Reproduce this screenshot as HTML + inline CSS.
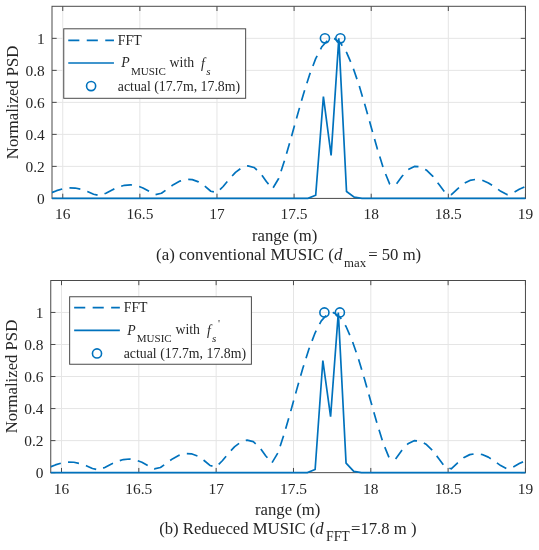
<!DOCTYPE html>
<html><head><meta charset="utf-8"><title>MUSIC range spectra</title>
<style>
html,body{margin:0;padding:0;background:#fff;}
body{width:539px;height:550px;overflow:hidden;font-family:"Liberation Serif", serif;}
svg{display:block;}
</style></head><body>
<svg width="539" height="550" viewBox="0 0 539 550" font-family='"Liberation Serif", serif' fill="#262626">
<rect x="0" y="0" width="539" height="550" fill="#fff"/>
<clipPath id="clip1"><rect x="52.00" y="4.30" width="473.45" height="196.10"/></clipPath>
<line x1="62.75" y1="6.30" x2="62.75" y2="198.40" stroke="#e5e5e5" stroke-width="1"/>
<line x1="139.87" y1="6.30" x2="139.87" y2="198.40" stroke="#e5e5e5" stroke-width="1"/>
<line x1="216.98" y1="6.30" x2="216.98" y2="198.40" stroke="#e5e5e5" stroke-width="1"/>
<line x1="294.09" y1="6.30" x2="294.09" y2="198.40" stroke="#e5e5e5" stroke-width="1"/>
<line x1="371.21" y1="6.30" x2="371.21" y2="198.40" stroke="#e5e5e5" stroke-width="1"/>
<line x1="448.32" y1="6.30" x2="448.32" y2="198.40" stroke="#e5e5e5" stroke-width="1"/>
<line x1="52.00" y1="166.39" x2="525.45" y2="166.39" stroke="#e5e5e5" stroke-width="1"/>
<line x1="52.00" y1="134.38" x2="525.45" y2="134.38" stroke="#e5e5e5" stroke-width="1"/>
<line x1="52.00" y1="102.37" x2="525.45" y2="102.37" stroke="#e5e5e5" stroke-width="1"/>
<line x1="52.00" y1="70.36" x2="525.45" y2="70.36" stroke="#e5e5e5" stroke-width="1"/>
<line x1="52.00" y1="38.35" x2="525.45" y2="38.35" stroke="#e5e5e5" stroke-width="1"/>
<rect x="52.00" y="6.30" width="473.45" height="192.10" fill="none" stroke="#4a4a4a" stroke-width="1"/>
<line x1="62.75" y1="198.40" x2="62.75" y2="193.70" stroke="#4a4a4a" stroke-width="1"/>
<line x1="62.75" y1="6.30" x2="62.75" y2="11.00" stroke="#4a4a4a" stroke-width="1"/>
<text x="62.75" y="219.30" font-size="15.4" text-anchor="middle">16</text>
<line x1="139.87" y1="198.40" x2="139.87" y2="193.70" stroke="#4a4a4a" stroke-width="1"/>
<line x1="139.87" y1="6.30" x2="139.87" y2="11.00" stroke="#4a4a4a" stroke-width="1"/>
<text x="139.87" y="219.30" font-size="15.4" text-anchor="middle">16.5</text>
<line x1="216.98" y1="198.40" x2="216.98" y2="193.70" stroke="#4a4a4a" stroke-width="1"/>
<line x1="216.98" y1="6.30" x2="216.98" y2="11.00" stroke="#4a4a4a" stroke-width="1"/>
<text x="216.98" y="219.30" font-size="15.4" text-anchor="middle">17</text>
<line x1="294.09" y1="198.40" x2="294.09" y2="193.70" stroke="#4a4a4a" stroke-width="1"/>
<line x1="294.09" y1="6.30" x2="294.09" y2="11.00" stroke="#4a4a4a" stroke-width="1"/>
<text x="294.09" y="219.30" font-size="15.4" text-anchor="middle">17.5</text>
<line x1="371.21" y1="198.40" x2="371.21" y2="193.70" stroke="#4a4a4a" stroke-width="1"/>
<line x1="371.21" y1="6.30" x2="371.21" y2="11.00" stroke="#4a4a4a" stroke-width="1"/>
<text x="371.21" y="219.30" font-size="15.4" text-anchor="middle">18</text>
<line x1="448.32" y1="198.40" x2="448.32" y2="193.70" stroke="#4a4a4a" stroke-width="1"/>
<line x1="448.32" y1="6.30" x2="448.32" y2="11.00" stroke="#4a4a4a" stroke-width="1"/>
<text x="448.32" y="219.30" font-size="15.4" text-anchor="middle">18.5</text>
<line x1="525.44" y1="198.40" x2="525.44" y2="193.70" stroke="#4a4a4a" stroke-width="1"/>
<line x1="525.44" y1="6.30" x2="525.44" y2="11.00" stroke="#4a4a4a" stroke-width="1"/>
<text x="525.44" y="219.30" font-size="15.4" text-anchor="middle">19</text>
<line x1="52.00" y1="198.40" x2="56.70" y2="198.40" stroke="#4a4a4a" stroke-width="1"/>
<line x1="525.45" y1="198.40" x2="520.75" y2="198.40" stroke="#4a4a4a" stroke-width="1"/>
<text x="44.80" y="204.20" font-size="15.4" text-anchor="end">0</text>
<line x1="52.00" y1="166.39" x2="56.70" y2="166.39" stroke="#4a4a4a" stroke-width="1"/>
<line x1="525.45" y1="166.39" x2="520.75" y2="166.39" stroke="#4a4a4a" stroke-width="1"/>
<text x="44.80" y="172.19" font-size="15.4" text-anchor="end">0.2</text>
<line x1="52.00" y1="134.38" x2="56.70" y2="134.38" stroke="#4a4a4a" stroke-width="1"/>
<line x1="525.45" y1="134.38" x2="520.75" y2="134.38" stroke="#4a4a4a" stroke-width="1"/>
<text x="44.80" y="140.18" font-size="15.4" text-anchor="end">0.4</text>
<line x1="52.00" y1="102.37" x2="56.70" y2="102.37" stroke="#4a4a4a" stroke-width="1"/>
<line x1="525.45" y1="102.37" x2="520.75" y2="102.37" stroke="#4a4a4a" stroke-width="1"/>
<text x="44.80" y="108.17" font-size="15.4" text-anchor="end">0.6</text>
<line x1="52.00" y1="70.36" x2="56.70" y2="70.36" stroke="#4a4a4a" stroke-width="1"/>
<line x1="525.45" y1="70.36" x2="520.75" y2="70.36" stroke="#4a4a4a" stroke-width="1"/>
<text x="44.80" y="76.16" font-size="15.4" text-anchor="end">0.8</text>
<line x1="52.00" y1="38.35" x2="56.70" y2="38.35" stroke="#4a4a4a" stroke-width="1"/>
<line x1="525.45" y1="38.35" x2="520.75" y2="38.35" stroke="#4a4a4a" stroke-width="1"/>
<text x="44.80" y="44.15" font-size="15.4" text-anchor="end">1</text>
<polyline points="7.23,190.11 13.40,189.75 19.57,190.30 25.73,191.70 31.90,193.77 38.07,195.90 44.24,195.62 50.41,193.15 56.58,190.68 62.75,188.83 68.92,187.90 75.09,188.03 81.26,189.28 87.43,191.49 93.60,194.26 99.77,195.69 105.93,193.22 112.10,189.92 118.27,187.11 124.44,185.30 130.61,184.78 136.78,185.69 142.95,187.99 149.12,191.38 155.29,194.63 161.46,193.23 167.63,188.77 173.80,184.42 179.96,181.11 186.13,179.38 192.30,179.58 198.47,181.85 204.64,186.01 210.81,191.23 216.98,192.65 223.15,186.49 229.32,179.03 235.49,172.41 241.66,167.74 247.83,165.87 254.00,167.45 260.16,172.79 266.33,181.52 272.50,188.78 278.67,178.52 284.84,159.63 291.01,138.17 297.18,115.95 303.35,94.40 309.52,74.90 315.69,58.66 321.86,46.73 328.03,39.88 334.19,38.54 340.36,42.81 346.53,52.39 352.70,66.66 358.87,84.69 365.04,105.32 371.21,127.23 377.38,149.00 383.55,168.99 389.72,184.09 395.89,184.73 402.06,176.27 408.23,169.59 414.39,166.44 420.56,166.83 426.73,170.32 432.90,176.35 439.07,184.50 445.24,192.72 451.41,194.56 457.58,188.79 463.75,183.54 469.92,180.39 476.09,179.33 482.26,180.25 488.42,182.91 494.59,186.85 500.76,191.33 506.93,194.57 513.10,192.81 519.27,189.30 525.44,186.53 531.61,185.04 537.78,184.96 543.95,186.25 550.12,188.66 556.29,191.79 562.46,194.85 568.62,195.16" fill="none" stroke="#0072BD" stroke-width="1.7" stroke-dasharray="11 7.35" stroke-dashoffset="9.0" stroke-linejoin="round" clip-path="url(#clip1)"/>
<polyline points="7.23,198.40 14.94,198.40 22.65,198.40 30.36,198.40 38.07,198.40 45.78,198.40 53.50,198.40 61.21,198.40 68.92,198.40 76.63,198.40 84.34,198.40 92.05,198.40 99.77,198.40 107.48,198.40 115.19,198.40 122.90,198.40 130.61,198.40 138.32,198.40 146.03,198.40 153.75,198.40 161.46,198.40 169.17,198.40 176.88,198.40 184.59,198.40 192.30,198.40 200.01,198.40 207.73,198.40 215.44,198.40 223.15,198.40 230.86,198.40 238.57,198.40 246.28,198.40 254.00,198.40 261.71,198.40 269.42,198.40 277.13,198.40 284.84,198.40 292.55,198.40 300.26,198.40 307.98,198.40 315.69,195.20 323.40,96.61 331.11,155.35 338.82,38.35 346.53,191.52 354.24,197.12 361.96,198.40 369.67,198.40 377.38,198.40 385.09,198.40 392.80,198.40 400.51,198.40 408.23,198.40 415.94,198.40 423.65,198.40 431.36,198.40 439.07,198.40 446.78,198.40 454.49,198.40 462.21,198.40 469.92,198.40 477.63,198.40 485.34,198.40 493.05,198.40 500.76,198.40 508.47,198.40 516.19,198.40 523.90,198.40 531.61,198.40 539.32,198.40 547.03,198.40 554.74,198.40 562.46,198.40 570.17,198.40" fill="none" stroke="#0072BD" stroke-width="1.7" stroke-linejoin="miter" clip-path="url(#clip1)"/>
<circle cx="324.94" cy="38.35" r="4.55" fill="none" stroke="#0072BD" stroke-width="1.6"/>
<circle cx="340.36" cy="38.35" r="4.55" fill="none" stroke="#0072BD" stroke-width="1.6"/>
<text transform="translate(18.20,102.35) rotate(-90)" font-size="16.7" text-anchor="middle">Normalized PSD</text>
<text x="284.60" y="240.80" font-size="16.7" text-anchor="middle">range (m)</text>
<text x="156.1" y="260.0" font-size="16.9">(a) conventional MUSIC (</text><text x="334.0" y="260.0" font-size="16.7" font-style="italic">d</text><text x="344.0" y="267.0" font-size="12.8">max</text><text x="368.2" y="260.0" font-size="16.7">= 50 m)</text>
<rect x="63.75" y="28.80" width="181.90" height="69.50" fill="#fff" stroke="#4a4a4a" stroke-width="1"/>
<line x1="68.25" y1="40.30" x2="113.95" y2="40.30" stroke="#0072BD" stroke-width="1.7" stroke-dasharray="11.1 7.4"/>
<line x1="68.25" y1="63.00" x2="113.95" y2="63.00" stroke="#0072BD" stroke-width="1.7"/>
<circle cx="91.10" cy="86.10" r="4.55" fill="none" stroke="#0072BD" stroke-width="1.6"/>
<text x="117.85" y="44.80" font-size="13.8">FFT</text>
<text x="121.25" y="67.30" font-size="13.8"><tspan font-style="italic">P</tspan><tspan dy="7.6" dx="1.2" font-size="11.04">MUSIC</tspan><tspan dy="-8.4" dx="0.3"> with </tspan><tspan font-style="italic" dy="1.0" dx="3.4">f</tspan><tspan dy="7.0" dx="1.4" font-size="11.04" font-style="italic">s</tspan></text>
<text x="117.85" y="90.60" font-size="13.8">actual (17.7m, 17.8m)</text>
<clipPath id="clip2"><rect x="50.75" y="278.50" width="474.70" height="196.15"/></clipPath>
<line x1="61.50" y1="280.50" x2="61.50" y2="472.65" stroke="#e5e5e5" stroke-width="1"/>
<line x1="138.82" y1="280.50" x2="138.82" y2="472.65" stroke="#e5e5e5" stroke-width="1"/>
<line x1="216.15" y1="280.50" x2="216.15" y2="472.65" stroke="#e5e5e5" stroke-width="1"/>
<line x1="293.48" y1="280.50" x2="293.48" y2="472.65" stroke="#e5e5e5" stroke-width="1"/>
<line x1="370.80" y1="280.50" x2="370.80" y2="472.65" stroke="#e5e5e5" stroke-width="1"/>
<line x1="448.12" y1="280.50" x2="448.12" y2="472.65" stroke="#e5e5e5" stroke-width="1"/>
<line x1="50.75" y1="440.61" x2="525.45" y2="440.61" stroke="#e5e5e5" stroke-width="1"/>
<line x1="50.75" y1="408.57" x2="525.45" y2="408.57" stroke="#e5e5e5" stroke-width="1"/>
<line x1="50.75" y1="376.53" x2="525.45" y2="376.53" stroke="#e5e5e5" stroke-width="1"/>
<line x1="50.75" y1="344.49" x2="525.45" y2="344.49" stroke="#e5e5e5" stroke-width="1"/>
<line x1="50.75" y1="312.45" x2="525.45" y2="312.45" stroke="#e5e5e5" stroke-width="1"/>
<rect x="50.75" y="280.50" width="474.70" height="192.15" fill="none" stroke="#4a4a4a" stroke-width="1"/>
<line x1="61.50" y1="472.65" x2="61.50" y2="467.95" stroke="#4a4a4a" stroke-width="1"/>
<line x1="61.50" y1="280.50" x2="61.50" y2="285.20" stroke="#4a4a4a" stroke-width="1"/>
<text x="61.50" y="493.55" font-size="15.4" text-anchor="middle">16</text>
<line x1="138.82" y1="472.65" x2="138.82" y2="467.95" stroke="#4a4a4a" stroke-width="1"/>
<line x1="138.82" y1="280.50" x2="138.82" y2="285.20" stroke="#4a4a4a" stroke-width="1"/>
<text x="138.82" y="493.55" font-size="15.4" text-anchor="middle">16.5</text>
<line x1="216.15" y1="472.65" x2="216.15" y2="467.95" stroke="#4a4a4a" stroke-width="1"/>
<line x1="216.15" y1="280.50" x2="216.15" y2="285.20" stroke="#4a4a4a" stroke-width="1"/>
<text x="216.15" y="493.55" font-size="15.4" text-anchor="middle">17</text>
<line x1="293.48" y1="472.65" x2="293.48" y2="467.95" stroke="#4a4a4a" stroke-width="1"/>
<line x1="293.48" y1="280.50" x2="293.48" y2="285.20" stroke="#4a4a4a" stroke-width="1"/>
<text x="293.48" y="493.55" font-size="15.4" text-anchor="middle">17.5</text>
<line x1="370.80" y1="472.65" x2="370.80" y2="467.95" stroke="#4a4a4a" stroke-width="1"/>
<line x1="370.80" y1="280.50" x2="370.80" y2="285.20" stroke="#4a4a4a" stroke-width="1"/>
<text x="370.80" y="493.55" font-size="15.4" text-anchor="middle">18</text>
<line x1="448.12" y1="472.65" x2="448.12" y2="467.95" stroke="#4a4a4a" stroke-width="1"/>
<line x1="448.12" y1="280.50" x2="448.12" y2="285.20" stroke="#4a4a4a" stroke-width="1"/>
<text x="448.12" y="493.55" font-size="15.4" text-anchor="middle">18.5</text>
<line x1="525.45" y1="472.65" x2="525.45" y2="467.95" stroke="#4a4a4a" stroke-width="1"/>
<line x1="525.45" y1="280.50" x2="525.45" y2="285.20" stroke="#4a4a4a" stroke-width="1"/>
<text x="525.45" y="493.55" font-size="15.4" text-anchor="middle">19</text>
<line x1="50.75" y1="472.65" x2="55.45" y2="472.65" stroke="#4a4a4a" stroke-width="1"/>
<line x1="525.45" y1="472.65" x2="520.75" y2="472.65" stroke="#4a4a4a" stroke-width="1"/>
<text x="43.55" y="478.45" font-size="15.4" text-anchor="end">0</text>
<line x1="50.75" y1="440.61" x2="55.45" y2="440.61" stroke="#4a4a4a" stroke-width="1"/>
<line x1="525.45" y1="440.61" x2="520.75" y2="440.61" stroke="#4a4a4a" stroke-width="1"/>
<text x="43.55" y="446.41" font-size="15.4" text-anchor="end">0.2</text>
<line x1="50.75" y1="408.57" x2="55.45" y2="408.57" stroke="#4a4a4a" stroke-width="1"/>
<line x1="525.45" y1="408.57" x2="520.75" y2="408.57" stroke="#4a4a4a" stroke-width="1"/>
<text x="43.55" y="414.37" font-size="15.4" text-anchor="end">0.4</text>
<line x1="50.75" y1="376.53" x2="55.45" y2="376.53" stroke="#4a4a4a" stroke-width="1"/>
<line x1="525.45" y1="376.53" x2="520.75" y2="376.53" stroke="#4a4a4a" stroke-width="1"/>
<text x="43.55" y="382.33" font-size="15.4" text-anchor="end">0.6</text>
<line x1="50.75" y1="344.49" x2="55.45" y2="344.49" stroke="#4a4a4a" stroke-width="1"/>
<line x1="525.45" y1="344.49" x2="520.75" y2="344.49" stroke="#4a4a4a" stroke-width="1"/>
<text x="43.55" y="350.29" font-size="15.4" text-anchor="end">0.8</text>
<line x1="50.75" y1="312.45" x2="55.45" y2="312.45" stroke="#4a4a4a" stroke-width="1"/>
<line x1="525.45" y1="312.45" x2="520.75" y2="312.45" stroke="#4a4a4a" stroke-width="1"/>
<text x="43.55" y="318.25" font-size="15.4" text-anchor="end">1</text>
<polyline points="5.83,464.36 12.01,464.00 18.20,464.54 24.38,465.95 30.57,468.02 36.76,470.15 42.94,469.87 49.13,467.40 55.31,464.93 61.50,463.07 67.69,462.14 73.87,462.27 80.06,463.52 86.24,465.73 92.43,468.51 98.62,469.94 104.80,467.47 110.99,464.16 117.17,461.35 123.36,459.53 129.55,459.01 135.73,459.93 141.92,462.23 148.10,465.62 154.29,468.87 160.48,467.48 166.66,463.01 172.85,458.66 179.03,455.34 185.22,453.61 191.41,453.81 197.59,456.08 203.78,460.25 209.96,465.47 216.15,466.89 222.34,460.73 228.52,453.26 234.71,446.64 240.89,441.96 247.08,440.09 253.27,441.67 259.45,447.02 265.64,455.75 271.82,463.03 278.01,452.76 284.20,433.84 290.38,412.36 296.57,390.12 302.75,368.56 308.94,349.03 315.13,332.78 321.31,320.84 327.50,313.98 333.68,312.64 339.87,316.91 346.06,326.50 352.24,340.79 358.43,358.83 364.61,379.48 370.80,401.42 376.99,423.20 383.17,443.21 389.36,458.32 395.54,458.97 401.73,450.50 407.92,443.81 414.10,440.66 420.29,441.05 426.47,444.54 432.66,450.57 438.85,458.74 445.03,466.97 451.22,468.80 457.40,463.03 463.59,457.77 469.78,454.63 475.96,453.56 482.15,454.49 488.33,457.15 494.52,461.09 500.71,465.58 506.89,468.82 513.08,467.05 519.26,463.54 525.45,460.77 531.64,459.27 537.82,459.20 544.01,460.49 550.19,462.90 556.38,466.04 562.57,469.10 568.75,469.41" fill="none" stroke="#0072BD" stroke-width="1.7" stroke-dasharray="11 7.35" stroke-dashoffset="9.0" stroke-linejoin="round" clip-path="url(#clip2)"/>
<polyline points="5.83,472.65 13.56,472.65 21.29,472.65 29.02,472.65 36.76,472.65 44.49,472.65 52.22,472.65 59.95,472.65 67.69,472.65 75.42,472.65 83.15,472.65 90.88,472.65 98.62,472.65 106.35,472.65 114.08,472.65 121.81,472.65 129.55,472.65 137.28,472.65 145.01,472.65 152.74,472.65 160.48,472.65 168.21,472.65 175.94,472.65 183.67,472.65 191.41,472.65 199.14,472.65 206.87,472.65 214.60,472.65 222.34,472.65 230.07,472.65 237.80,472.65 245.53,472.65 253.27,472.65 261.00,472.65 268.73,472.65 276.46,472.65 284.20,472.65 291.93,472.65 299.66,472.65 307.39,472.65 315.13,469.45 322.86,360.51 330.59,416.58 338.32,312.45 346.06,463.04 353.79,471.37 361.52,472.65 369.25,472.65 376.99,472.65 384.72,472.65 392.45,472.65 400.18,472.65 407.92,472.65 415.65,472.65 423.38,472.65 431.11,472.65 438.85,472.65 446.58,472.65 454.31,472.65 462.04,472.65 469.78,472.65 477.51,472.65 485.24,472.65 492.97,472.65 500.71,472.65 508.44,472.65 516.17,472.65 523.90,472.65 531.64,472.65 539.37,472.65 547.10,472.65 554.83,472.65 562.57,472.65 570.30,472.65" fill="none" stroke="#0072BD" stroke-width="1.7" stroke-linejoin="miter" clip-path="url(#clip2)"/>
<circle cx="324.40" cy="312.45" r="4.55" fill="none" stroke="#0072BD" stroke-width="1.6"/>
<circle cx="339.87" cy="312.45" r="4.55" fill="none" stroke="#0072BD" stroke-width="1.6"/>
<text transform="translate(17.40,376.57) rotate(-90)" font-size="16.7" text-anchor="middle">Normalized PSD</text>
<text x="287.65" y="514.70" font-size="16.7" text-anchor="middle">range (m)</text>
<text x="159.2" y="533.8" font-size="16.7">(b) Redueced MUSIC (</text><text x="315.3" y="533.8" font-size="16.7" font-style="italic">d</text><text x="326.0" y="541.4" font-size="13.8">FFT</text><text x="351.0" y="533.8" font-size="16.7">=17.8 m )</text>
<rect x="69.65" y="296.75" width="181.75" height="67.50" fill="#fff" stroke="#4a4a4a" stroke-width="1"/>
<line x1="74.15" y1="307.65" x2="119.85" y2="307.65" stroke="#0072BD" stroke-width="1.7" stroke-dasharray="11.1 7.4"/>
<line x1="74.15" y1="330.35" x2="119.85" y2="330.35" stroke="#0072BD" stroke-width="1.7"/>
<circle cx="97.00" cy="353.45" r="4.55" fill="none" stroke="#0072BD" stroke-width="1.6"/>
<text x="123.75" y="312.15" font-size="13.8">FFT</text>
<text x="127.15" y="334.65" font-size="13.8"><tspan font-style="italic">P</tspan><tspan dy="7.6" dx="1.2" font-size="11.04">MUSIC</tspan><tspan dy="-8.4" dx="0.3"> with </tspan><tspan font-style="italic" dy="1.0" dx="3.4">f</tspan><tspan dy="7.0" dx="1.4" font-size="11.04" font-style="italic">s</tspan><tspan dy="-15" dx="1.5" font-size="11.04">'</tspan></text>
<text x="123.75" y="357.95" font-size="13.8">actual (17.7m, 17.8m)</text>
</svg>
</body></html>
